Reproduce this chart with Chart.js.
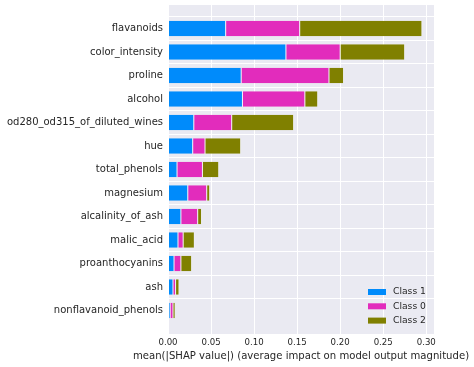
<!DOCTYPE html>
<html>
<head>
<meta charset="utf-8">
<script src="https://cdn.jsdelivr.net/npm/chart.js@4.4.0/dist/chart.umd.min.js"></script>
<style>
  html, body { margin: 0; padding: 0; background: #fff; }
  #wrap { width: 474px; height: 367px; }
</style>
</head>
<body>
<div id="wrap"><canvas id="chart" width="474" height="367"></canvas></div>
<script>
// features, top to bottom
const features = [
  "flavanoids", "color_intensity", "proline", "alcohol",
  "od280_od315_of_diluted_wines", "hue", "total_phenols", "magnesium",
  "alcalinity_of_ash", "malic_acid", "proanthocyanins", "ash",
  "nonflavanoid_phenols"
];
// mean |SHAP| per class
const class1 = [0.067, 0.137, 0.085, 0.0865, 0.030, 0.0287, 0.0105, 0.023, 0.015, 0.0116, 0.007, 0.0058, 0.0025];
const class0 = [0.086, 0.063, 0.102, 0.0725, 0.044, 0.0143, 0.0295, 0.022, 0.0195, 0.006, 0.008, 0.003, 0.0033];
const class2 = [0.142, 0.075, 0.017, 0.015, 0.072, 0.0415, 0.019, 0.0035, 0.0045, 0.013, 0.0125, 0.004, 0.0025];
const xTicks = [0, 0.05, 0.10, 0.15, 0.20, 0.25, 0.30];
const xTitle = "mean(|SHAP value|) (average impact on model output magnitude)";

const FONT = "'DejaVu Sans', sans-serif";
const TEXT = "#262626";

// empty category at each end so the bars sit one step in from the edges
const labels = ["", ...features, ""];
const pad = (arr) => [null, ...arr, null];

const plotBg = {
  id: "plotBg",
  beforeDraw(chart) {
    const { ctx, chartArea: a } = chart;
    ctx.save();
    ctx.fillStyle = "#eaeaf2";
    ctx.fillRect(a.left, a.top, a.right - a.left, a.bottom - a.top);
    ctx.restore();
  }
};

// legend in the lower right of the plot + x axis label (chart.js squeezes a wide axis title)
const extras = {
  id: "extras",
  afterDatasetsDraw(chart) {
    const { ctx } = chart;
    const a = chart.chartArea;
    ctx.save();
    ctx.textBaseline = "middle";
    ctx.font = "9.2px " + FONT;
    chart.data.datasets.forEach((ds, i) => {
      const y = a.bottom - 42 + i * 14.3;
      ctx.fillStyle = ds.backgroundColor;
      ctx.fillRect(a.right - 66, y - 3, 18, 6);
      ctx.fillStyle = TEXT;
      ctx.textAlign = "left";
      ctx.fillText(ds.label, a.right - 41, y);
    });
    ctx.font = "10.1px " + FONT;
    ctx.textAlign = "center";
    ctx.fillText(xTitle, (a.left + a.right) / 2, a.bottom + 22);
    ctx.restore();
  }
};

const ds = (label, data, color) => ({
  label: label,
  data: pad(data),
  backgroundColor: color,
  borderColor: "#ffffff",
  borderWidth: { left: 0.5, right: 0.5, top: 0, bottom: 0 },
  borderSkipped: false,
  barPercentage: 0.66,
  categoryPercentage: 1
});

new Chart(document.getElementById("chart"), {
  type: "bar",
  data: {
    labels: labels,
    datasets: [
      ds("Class 1", class1, "#008bfb"),
      ds("Class 0", class0, "#e22cbc"),
      ds("Class 2", class2, "#808000")
    ]
  },
  options: {
    indexAxis: "y",
    responsive: false,
    animation: false,
    layout: { padding: { top: 5, right: 40, bottom: 0, left: 0 } },
    plugins: { legend: { display: false }, tooltip: { enabled: false } },
    scales: {
      x: {
        stacked: true,
        min: 0,
        max: 0.309,
        border: { display: false },
        grid: { color: "#ffffff", lineWidth: 1, drawTicks: false },
        afterBuildTicks: (s) => { s.ticks = xTicks.map(v => ({ value: v })); },
        ticks: {
          padding: 4,
          color: TEXT,
          font: { family: FONT, size: 8.6 },
          callback: (v) => Number(v).toFixed(2)
        },
        afterFit: (s) => { s.height = 33; s.paddingLeft = 0; s.paddingRight = 0; }
      },
      y: {
        stacked: true,
        offset: false,
        border: { display: false },
        grid: {
          drawTicks: false,
          lineWidth: 1,
          color: (c) => (c.index === 0 || c.index === labels.length - 1) ? "rgba(0,0,0,0)" : "#ffffff"
        },
        ticks: {
          padding: 5,
          color: TEXT,
          autoSkip: false,
          font: { family: FONT, size: 10 }
        },
        afterFit: (s) => { s.width = 168; s.paddingTop = 0; s.paddingBottom = 0; }
      }
    }
  },
  plugins: [plotBg, extras]
});
</script>
</body>
</html>
